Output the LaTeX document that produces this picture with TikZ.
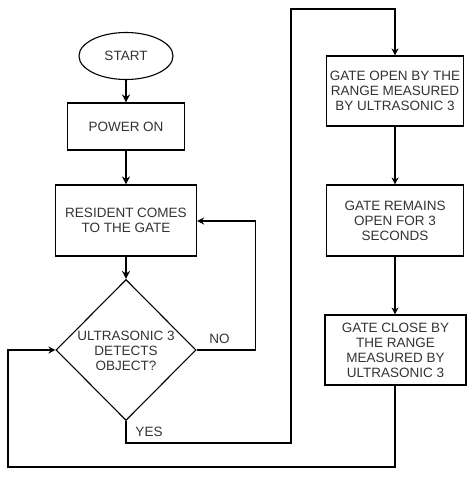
\documentclass[tikz,border=0pt]{standalone}
\usepackage{fontspec}
\setmainfont{Liberation Sans}
\usetikzlibrary{shapes.geometric,arrows.meta}
\begin{document}
\begin{tikzpicture}[x=1pt,y=-1pt,
  every node/.style={font=\fontsize{13.5}{15}\selectfont, text=black!80},
  box/.style={draw=black, line width=1.1pt, rectangle, inner sep=0pt, align=center},
  conn/.style={line width=1.1pt, draw=black, -{Stealth[length=7pt,width=7pt]}},
  thickconn/.style={line width=2pt, draw=black, -{Stealth[length=8pt,width=8pt]}},
  plain/.style={line width=1.1pt, draw=black},
  lbl/.style={inner sep=0pt}]
\useasboundingbox (0,0) rectangle (467,478);
\node[box, ellipse, minimum width=94, minimum height=47] (start) at (126,56) {START};
\node[box, minimum width=117, minimum height=47] (power) at (126,126.5) {POWER ON};
\node[box, minimum width=141, minimum height=71] (res) at (126,220.5) {RESIDENT COMES\\TO THE GATE};
\node[box, diamond, minimum width=140, minimum height=141] (dec) at (126,350) {};
\node[lbl, align=center] (dectext) at (126,351) {ULTRASONIC 3\\DETECTS\\OBJECT?};
\node[box, minimum width=137, minimum height=70] (gopen) at (395,91) {GATE OPEN BY THE\\RANGE MEASURED\\BY ULTRASONIC 3};
\node[box, minimum width=137, minimum height=71] (gremain) at (395,220.5) {GATE REMAINS\\OPEN FOR 3\\SECONDS};
\node[box, minimum width=141, minimum height=70] (gclose) at (395.5,350) {GATE CLOSE BY\\THE RANGE\\MEASURED BY\\ULTRASONIC 3};
\node[lbl] (no) at (219.5,338.5) {NO};
\node[lbl] (yes) at (149,432) {YES};
\coordinate (noA) at (255.5,350);
\coordinate (noB) at (255.5,221);
\coordinate (yesA) at (126,443);
\coordinate (yesB) at (291,443);
\coordinate (yesC) at (291,9);
\coordinate (yesD) at (395,9);
\coordinate (bkA) at (395,467);
\coordinate (bkB) at (8,467);
\coordinate (bkC) at (8,350);
\draw[thickconn] (start) -- (power);
\draw[thickconn] (power) -- (res);
\draw[thickconn] (res) -- (dec);
\draw[conn] (dec.east) -- (noA) -- (noB) -- (res.east |- noB);
\draw[conn] (dec.south) -- (yesA) -- (yesB) -- (yesC) -- (yesD) -- (gopen.north);
\draw[conn] (gopen) -- (gremain);
\draw[conn] (gremain) -- (gclose.north -| gremain);
\draw[conn, line width=1.5pt] (gclose.south -| bkA) -- (bkA) -- (bkB) -- (bkC) -- (dec.west);
\end{tikzpicture}
\end{document}
